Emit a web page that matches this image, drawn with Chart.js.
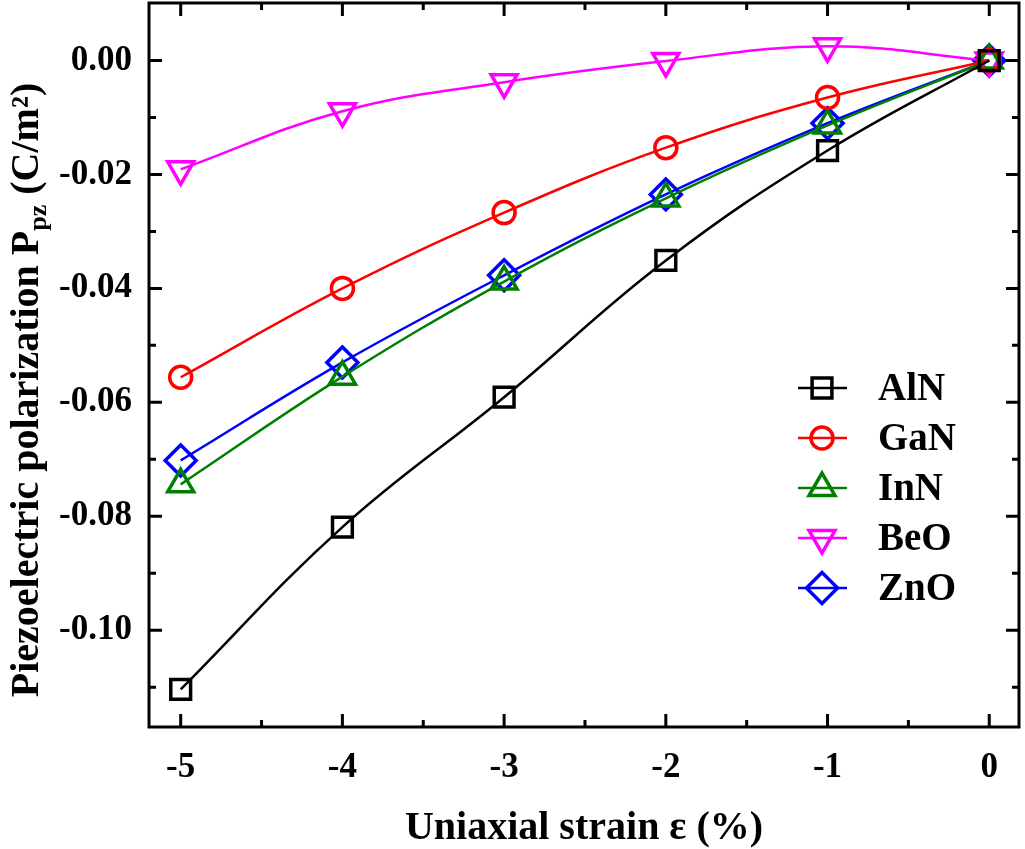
<!DOCTYPE html>
<html>
<head>
<meta charset="utf-8">
<script src="https://cdn.jsdelivr.net/npm/chart.js@4.4.0/dist/chart.umd.min.js"></script>
<style>
  html, body { margin: 0; padding: 0; background: #fff; }
  #wrap { width: 1025px; height: 849px; }
</style>
</head>
<body>
<div id="wrap"><canvas id="c" width="1025" height="849"></canvas></div>
<script>
const seriesNames = ['AlN', 'GaN', 'InN', 'BeO', 'ZnO'];
const xValues = [-5, -4, -3, -2, -1, 0];
const alnValues = [-0.1104, -0.0819, -0.0591, -0.0351, -0.0158, 0];
const ganValues = [-0.0556, -0.0400, -0.0267, -0.0153, -0.0065, 0];
const innValues = [-0.0744, -0.0555, -0.0388, -0.0242, -0.0114, 0];
const beoValues = [-0.0191, -0.0089, -0.0038, -0.0001, 0.0025, 0];
const znoValues = [-0.0702, -0.0530, -0.0377, -0.0235, -0.0110, 0];
const xTicks = [-5, -4, -3, -2, -1, 0];
const xMinorTicks = [-4.5, -3.5, -2.5, -1.5, -0.5];
const yTicks = [0, -0.02, -0.04, -0.06, -0.08, -0.10];
const yMinorTicks = [0.01, -0.01, -0.03, -0.05, -0.07, -0.09, -0.11];
const xTitle = 'Uniaxial strain ε (%)';
const yTitleMain = 'Piezoelectric polarization P';
const yTitleSub = 'pz';
const yTitleTail = ' (C/m²)';

const SERIF = "'Liberation Serif', 'DejaVu Serif', serif";

function pts(vals) { return xValues.map((x, i) => ({ x: x, y: vals[i] })); }

const styles = [
  { color: '#000000', pointStyle: 'rect', radius: 14, rotation: 0 },
  { color: '#ff0000', pointStyle: 'circle', radius: 11, rotation: 0 },
  { color: '#008000', pointStyle: 'triangle', radius: 15, rotation: 0 },
  { color: '#ff00ff', pointStyle: 'triangle', radius: 15, rotation: 180 },
  { color: '#0000ff', pointStyle: 'rectRot', radius: 15.5, rotation: 0 }
];
const allValues = [alnValues, ganValues, innValues, beoValues, znoValues];

const datasets = seriesNames.map((name, i) => ({
  label: name,
  data: pts(allValues[i]),
  borderColor: styles[i].color,
  backgroundColor: 'rgba(0,0,0,0)',
  borderWidth: 2.5,
  tension: 0.4,
  pointStyle: styles[i].pointStyle,
  pointRadius: styles[i].radius,
  pointHoverRadius: styles[i].radius,
  pointRotation: styles[i].rotation,
  pointBorderColor: styles[i].color,
  pointBackgroundColor: 'rgba(0,0,0,0)',
  pointBorderWidth: 3.5,
  clip: false
}));

function zeroPad(s) { s.paddingTop = 0; s.paddingBottom = 0; s.paddingLeft = 0; s.paddingRight = 0; }

const framePlugin = {
  id: 'frame',
  afterDatasetsDraw(chart) {
    const ctx = chart.ctx;
    const a = chart.chartArea;
    const xs = chart.scales.x, ys = chart.scales.y;
    ctx.save();
    ctx.strokeStyle = '#000';
    ctx.lineWidth = 3;
    ctx.strokeRect(a.left, a.top, a.right - a.left, a.bottom - a.top);
    const major = 13, minor = 7;
    ctx.beginPath();
    xTicks.forEach(v => {
      const px = xs.getPixelForValue(v);
      ctx.moveTo(px, a.bottom); ctx.lineTo(px, a.bottom - major);
      ctx.moveTo(px, a.top); ctx.lineTo(px, a.top + major);
    });
    xMinorTicks.forEach(v => {
      const px = xs.getPixelForValue(v);
      ctx.moveTo(px, a.bottom); ctx.lineTo(px, a.bottom - minor);
      ctx.moveTo(px, a.top); ctx.lineTo(px, a.top + minor);
    });
    yTicks.forEach(v => {
      const py = ys.getPixelForValue(v);
      ctx.moveTo(a.left, py); ctx.lineTo(a.left + major, py);
      ctx.moveTo(a.right, py); ctx.lineTo(a.right - major, py);
    });
    yMinorTicks.forEach(v => {
      const py = ys.getPixelForValue(v);
      if (py < a.top + 2 || py > a.bottom - 2) return;
      ctx.moveTo(a.left, py); ctx.lineTo(a.left + minor, py);
      ctx.moveTo(a.right, py); ctx.lineTo(a.right - minor, py);
    });
    ctx.stroke();
    ctx.restore();
  },
  afterDraw(chart) {
    const ctx = chart.ctx;
    const a = chart.chartArea;
    ctx.save();
    ctx.fillStyle = '#000';
    ctx.font = 'bold 40px ' + SERIF;
    ctx.textAlign = 'center';
    ctx.textBaseline = 'alphabetic';
    ctx.fillText(xTitle, (a.left + a.right) / 2, 839);
    const mainFont = 'bold 40px ' + SERIF;
    const subFont = 'bold 26px ' + SERIF;
    ctx.font = mainFont;
    const w1 = ctx.measureText(yTitleMain).width;
    const w3 = ctx.measureText(yTitleTail).width;
    ctx.font = subFont;
    const w2 = ctx.measureText(yTitleSub).width;
    const total = w1 + w2 + w3;
    ctx.translate(38, 390);
    ctx.rotate(-Math.PI / 2);
    ctx.textAlign = 'left';
    const x0 = -total / 2;
    ctx.font = mainFont;
    ctx.fillText(yTitleMain, x0, 0);
    ctx.font = subFont;
    ctx.fillText(yTitleSub, x0 + w1, 8);
    ctx.font = mainFont;
    ctx.fillText(yTitleTail, x0 + w1 + w2, 0);
    ctx.restore();

    ctx.save();
    chart.data.datasets.forEach((ds, i) => {
      const y = 388 + i * 50;
      ctx.strokeStyle = ds.borderColor;
      ctx.lineWidth = 2.5;
      ctx.beginPath();
      ctx.moveTo(798, y); ctx.lineTo(847, y);
      ctx.stroke();
      ctx.lineWidth = 3.5;
      ctx.fillStyle = 'rgba(0,0,0,0)';
      Chart.helpers.drawPoint(ctx, {
        pointStyle: ds.pointStyle,
        rotation: ds.pointRotation,
        radius: ds.pointRadius,
        borderWidth: 3.5
      }, 822, y);
      ctx.fillStyle = '#000';
      ctx.font = 'bold 39px ' + SERIF;
      ctx.textAlign = 'left';
      ctx.textBaseline = 'middle';
      ctx.fillText(ds.label, 878, y + 2);
    });
    ctx.restore();
  }
};

new Chart(document.getElementById('c'), {
  type: 'line',
  data: { datasets: datasets },
  options: {
    responsive: false,
    animation: false,
    events: [],
    layout: { autoPadding: false, padding: { top: 3, right: 6, left: 0, bottom: 0 } },
    plugins: { legend: { display: false }, tooltip: { enabled: false }, title: { display: false } },
    scales: {
      x: {
        type: 'linear',
        min: -5.196,
        max: 0.184,
        afterBuildTicks: s => { s.ticks = xTicks.map(v => ({ value: v })); },
        afterFit: s => { s.height = 122; zeroPad(s); },
        grid: { display: false, drawTicks: false },
        border: { display: false },
        ticks: {
          padding: 20,
          color: '#000',
          font: { family: SERIF, size: 35, weight: 'bold' },
          callback: v => String(v)
        }
      },
      y: {
        type: 'linear',
        min: -0.117,
        max: 0.0101,
        afterBuildTicks: s => { s.ticks = yTicks.map(v => ({ value: v })); },
        afterFit: s => { s.width = 149; zeroPad(s); },
        grid: { display: false, drawTicks: false },
        border: { display: false },
        ticks: {
          padding: 17,
          color: '#000',
          font: { family: SERIF, size: 35, weight: 'bold' },
          callback: v => Number(v).toFixed(2)
        }
      }
    }
  },
  plugins: [framePlugin]
});
</script>
</body>
</html>
